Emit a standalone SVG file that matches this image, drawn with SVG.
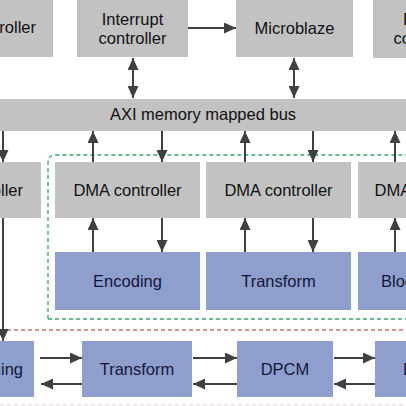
<svg xmlns="http://www.w3.org/2000/svg" width="406" height="406" viewBox="0 0 406 406">
<defs>
<marker id="ah" markerUnits="userSpaceOnUse" markerWidth="12" markerHeight="11" refX="12" refY="5.5" orient="auto-start-reverse">
<path d="M0,0 L12,5.5 L0,11 z" fill="#404040"/>
</marker>
<style>
.g{fill:#c2c2c2}
.b{fill:#8f9fcd}
.t{font-family:"Liberation Sans",Arial,sans-serif;font-size:16.5px;fill:#111}
.tb{font-family:"Liberation Sans",Arial,sans-serif;font-size:16.5px;fill:#15163a}
.c{text-anchor:middle}
.a{stroke:#404040;stroke-width:2;fill:none;marker-end:url(#ah)}
.d{stroke:#404040;stroke-width:2;fill:none;marker-end:url(#ah);marker-start:url(#ah)}
</style>
</defs>
<rect width="406" height="406" fill="#fff"/>

<g id="regions">
<path d="M48,319 L48,163 Q48,155 56,155 L415,155 M48,319 L415,319" fill="none" stroke="#3aa56a" stroke-width="1.3" stroke-dasharray="4,3"/>
<path d="M48,319 L48,311" fill="none"/>
<line x1="0" y1="330" x2="406" y2="330" stroke="#b03030" stroke-width="1.2" stroke-dasharray="4,3"/>
<line x1="0" y1="405" x2="406" y2="405" stroke="#f2c8c8" stroke-width="1.2" stroke-dasharray="4,3"/>
</g>

<g id="top-left">
<rect class="g" x="-70" y="-5" width="123" height="62"/>
<text class="t" x="36" y="33" text-anchor="end">controller</text>
</g>
<g id="interrupt">
<rect class="g" x="77" y="-5" width="111" height="62"/>
<text class="t c" x="132.5" y="25">Interrupt</text>
<text class="t c" x="132.5" y="44">controller</text>
</g>
<g id="microblaze">
<rect class="g" x="236" y="-5" width="117" height="62"/>
<text class="t c" x="294.5" y="34">Microblaze</text>
</g>
<g id="top-right">
<rect class="g" x="373" y="-5" width="111" height="63"/>
<text class="t" x="403" y="25">BRAM</text>
<text class="t" x="393.5" y="44">controller</text>
</g>

<g id="bus">
<rect class="g" x="-5" y="99" width="416" height="32"/>
<text class="t c" x="203" y="120">AXI memory mapped bus</text>
</g>

<g id="left-controller">
<rect class="g" x="-70" y="162" width="111" height="56"/>
<text class="t" x="23" y="196" text-anchor="end">controller</text>
</g>
<g id="dma1">
<rect class="g" x="55" y="162" width="145" height="56"/>
<text class="t c" x="127.5" y="196">DMA controller</text>
</g>
<g id="dma2">
<rect class="g" x="206" y="162" width="145" height="56"/>
<text class="t c" x="278.5" y="196">DMA controller</text>
</g>
<g id="dma3">
<rect class="g" x="358" y="162" width="145" height="56"/>
<text class="t" x="374.5" y="196">DMA controller</text>
</g>

<g id="encoding1">
<rect class="b" x="55" y="252" width="145" height="58"/>
<text class="tb c" x="127.5" y="287">Encoding</text>
</g>
<g id="transform1">
<rect class="b" x="206" y="252" width="145" height="58"/>
<text class="tb c" x="278.5" y="287">Transform</text>
</g>
<g id="block1">
<rect class="b" x="358" y="252" width="145" height="58"/>
<text class="tb" x="381" y="287">Block splitting</text>
</g>

<g id="encoding2">
<rect class="b" x="-80" y="341" width="114" height="56"/>
<text class="tb" x="23" y="375" text-anchor="end">Encoding</text>
</g>
<g id="transform2">
<rect class="b" x="82" y="341" width="110" height="56"/>
<text class="tb c" x="137" y="375">Transform</text>
</g>
<g id="dpcm">
<rect class="b" x="237" y="341" width="96" height="56"/>
<text class="tb c" x="285" y="375">DPCM</text>
</g>
<g id="block2">
<rect class="b" x="375" y="341" width="110" height="56"/>
<text class="tb" x="403" y="375">Blocking</text>
</g>

<g id="connectors">
<line class="a" x1="188" y1="28" x2="236" y2="28"/>
<line class="d" x1="133" y1="58" x2="133" y2="98"/>
<line class="d" x1="294" y1="58" x2="294" y2="98"/>
<line class="a" x1="3" y1="131" x2="3" y2="162"/>
<line class="a" x1="3" y1="218" x2="3" y2="341"/>
<line class="a" x1="93" y1="162" x2="93" y2="131"/>
<line class="a" x1="162" y1="131" x2="162" y2="162"/>
<line class="a" x1="245" y1="162" x2="245" y2="131"/>
<line class="a" x1="313" y1="131" x2="313" y2="162"/>
<line class="a" x1="395" y1="162" x2="395" y2="131"/>
<line class="a" x1="93" y1="252" x2="93" y2="218"/>
<line class="a" x1="162" y1="218" x2="162" y2="252"/>
<line class="a" x1="245" y1="252" x2="245" y2="218"/>
<line class="a" x1="313" y1="218" x2="313" y2="252"/>
<line class="a" x1="395" y1="252" x2="395" y2="218"/>
<line class="a" x1="40" y1="358" x2="82" y2="358"/>
<line class="a" x1="82" y1="384" x2="41" y2="384"/>
<line class="a" x1="193" y1="358" x2="237" y2="358"/>
<line class="a" x1="237" y1="384" x2="193" y2="384"/>
<line class="a" x1="334" y1="358" x2="375" y2="358"/>
<line class="a" x1="375" y1="384" x2="334" y2="384"/>
</g>
</svg>
